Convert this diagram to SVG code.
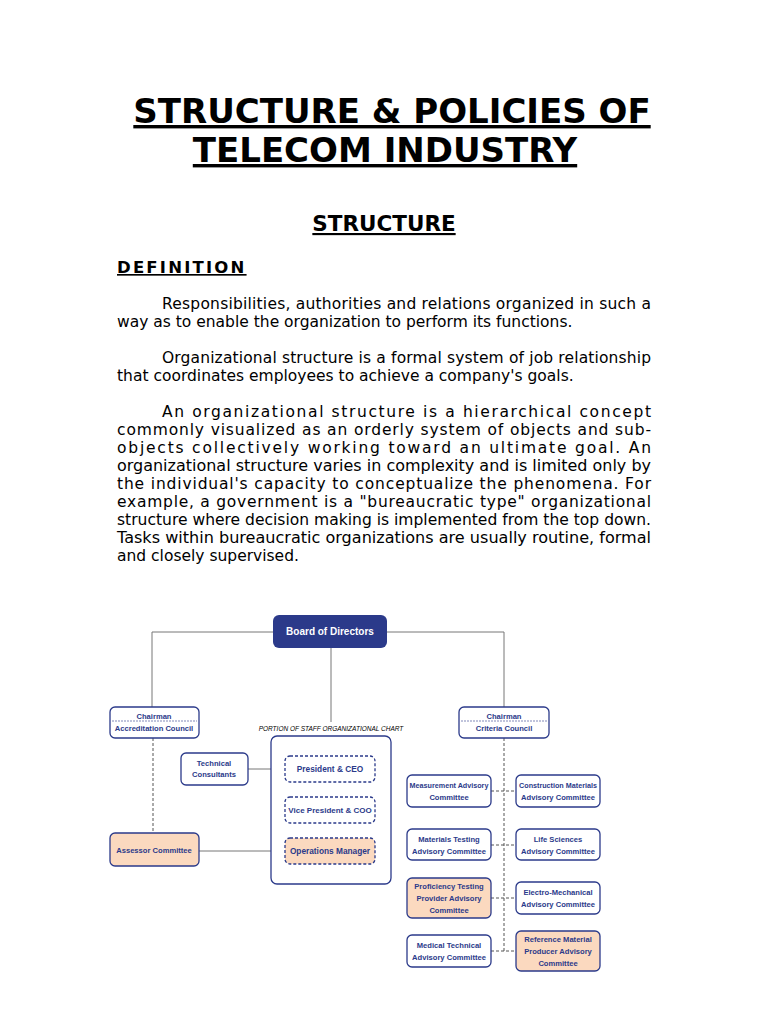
<svg xmlns="http://www.w3.org/2000/svg" width="768" height="1024" viewBox="0 0 768 1024">
<style>
.t{font-family:"DejaVu Sans",sans-serif;fill:#000}
.b{fill:#fff;stroke:#2b3a8a;stroke-width:1.3}
.p{fill:#fbd9bf;stroke:#2b3a8a;stroke-width:1.3}
.d{stroke-dasharray:3,2}
.n{font-family:"Liberation Sans",sans-serif;font-weight:bold;font-size:7.6px;fill:#2b3a8a;text-anchor:middle}
.l{stroke:#777;stroke-width:1;fill:none}
.ld{stroke:#555;stroke-width:1;fill:none;stroke-dasharray:3,2}
</style>
<rect width="768" height="1024" fill="#fff"/>
<text class="t" x="392" y="123" font-size="34" font-weight="bold" text-anchor="middle" text-decoration="underline">STRUCTURE &amp; POLICIES OF </text>
<text class="t" x="385" y="162" font-size="34" font-weight="bold" text-anchor="middle" text-decoration="underline">TELECOM INDUSTRY</text>
<text class="t" x="384" y="231" font-size="21.5" font-weight="bold" text-anchor="middle" text-decoration="underline">STRUCTURE</text>
<text class="t" x="117" y="273" font-size="16.5" font-weight="bold" letter-spacing="2.2" text-decoration="underline">DEFINITION</text>
<g class="t" font-size="15.5">
<text x="162" y="309" textLength="489" lengthAdjust="spacing">Responsibilities, authorities and relations organized in such a</text>
<text x="117" y="327">way as to enable the organization to perform its functions.</text>
<text x="162" y="363" textLength="489" lengthAdjust="spacing">Organizational structure is a formal system of job relationship</text>
<text x="117" y="381">that coordinates employees to achieve a company's goals.</text>
<text x="162" y="417" textLength="489" lengthAdjust="spacing">An organizational structure is a hierarchical concept</text>
<text x="117" y="435" textLength="534" lengthAdjust="spacing">commonly visualized as an orderly system of objects and sub-</text>
<text x="117" y="453" textLength="534" lengthAdjust="spacing">objects collectively working toward an ultimate goal. An</text>
<text x="117" y="471" textLength="534" lengthAdjust="spacingAndGlyphs">organizational structure varies in complexity and is limited only by</text>
<text x="117" y="489" textLength="534" lengthAdjust="spacing">the individual's capacity to conceptualize the phenomena. For</text>
<text x="117" y="507" textLength="534" lengthAdjust="spacing">example, a government is a "bureaucratic type" organizational</text>
<text x="117" y="525" textLength="534" lengthAdjust="spacingAndGlyphs">structure where decision making is implemented from the top down.</text>
<text x="117" y="543" textLength="534" lengthAdjust="spacingAndGlyphs">Tasks within bureaucratic organizations are usually routine, formal</text>
<text x="117" y="561">and closely supervised.</text>
</g>
<g id="connectors">
<path class="l" d="M152 707V632H273M387 632H504V707M331 648V722M248 769H285M199 851H285"/>
<path class="ld" d="M153 738V833M504 738V951M491 791H516M491 845H516M491 898H516M491 951H516"/>
</g>
<g id="board"><rect x="273" y="615" width="114" height="33" rx="6" fill="#2b3a8a"/><text class="n" x="330" y="635" style="fill:#fff;font-size:10px">Board of Directors</text></g>
<g id="chair-acc"><rect class="b" x="110" y="707" width="89" height="31" rx="5"/><line x1="112" y1="721" x2="197" y2="721" stroke="#2b3a8a" stroke-width=".6" stroke-dasharray="2,1"/><text class="n" x="154" y="719">Chairman</text><text class="n" x="154" y="731">Accreditation Council</text></g>
<g id="assessor"><rect class="p" x="110" y="833" width="89" height="33" rx="5"/><text class="n" x="154" y="853">Assessor Committee</text></g>
<g id="staff"><text x="331" y="731" font-family="Liberation Sans,sans-serif" font-style="italic" font-size="6.5" text-anchor="middle">PORTION OF STAFF ORGANIZATIONAL CHART</text><rect class="b" x="271" y="736" width="120" height="148" rx="6"/></g>
<g id="tech"><rect class="b" x="181" y="753" width="67" height="32" rx="5"/><text class="n" x="214" y="766">Technical</text><text class="n" x="214" y="777">Consultants</text></g>
<g id="ceo"><rect class="b d" x="285" y="756" width="90" height="26" rx="5"/><text class="n" x="330" y="772" style="font-size:8.3px">President &amp; CEO</text></g>
<g id="vp"><rect class="b d" x="285" y="797" width="90" height="26" rx="5"/><text class="n" x="330" y="813" style="font-size:8px">Vice President &amp; COO</text></g>
<g id="ops"><rect class="p d" x="285" y="838" width="90" height="26" rx="5"/><text class="n" x="330" y="854" style="font-size:8.3px">Operations Manager</text></g>
<g id="chair-crit"><rect class="b" x="459" y="707" width="90" height="31" rx="5"/><line x1="461" y1="721" x2="547" y2="721" stroke="#2b3a8a" stroke-width=".6" stroke-dasharray="2,1"/><text class="n" x="504" y="719">Chairman</text><text class="n" x="504" y="731">Criteria Council</text></g>
<g id="measure"><rect class="b" x="407" y="775" width="84" height="32" rx="5"/><text class="n" x="449" y="788" style="font-size:7.2px">Measurement Advisory</text><text class="n" x="449" y="800">Committee</text></g>
<g id="construct"><rect class="b" x="516" y="775" width="84" height="32" rx="5"/><text class="n" x="558" y="788" style="font-size:7.2px">Construction Materials</text><text class="n" x="558" y="800">Advisory Committee</text></g>
<g id="mattest"><rect class="b" x="407" y="829" width="84" height="31" rx="5"/><text class="n" x="449" y="842">Materials Testing</text><text class="n" x="449" y="854">Advisory Committee</text></g>
<g id="life"><rect class="b" x="516" y="829" width="84" height="31" rx="5"/><text class="n" x="558" y="842">Life Sciences</text><text class="n" x="558" y="854">Advisory Committee</text></g>
<g id="prof"><rect class="p" x="407" y="878" width="84" height="40" rx="5"/><text class="n" x="449" y="889">Proficiency Testing</text><text class="n" x="449" y="901">Provider Advisory</text><text class="n" x="449" y="913">Committee</text></g>
<g id="electro"><rect class="b" x="516" y="882" width="84" height="32" rx="5"/><text class="n" x="558" y="895">Electro-Mechanical</text><text class="n" x="558" y="907">Advisory Committee</text></g>
<g id="medical"><rect class="b" x="407" y="935" width="84" height="32" rx="5"/><text class="n" x="449" y="948">Medical Technical</text><text class="n" x="449" y="960">Advisory Committee</text></g>
<g id="refmat"><rect class="p" x="516" y="931" width="84" height="40" rx="5"/><text class="n" x="558" y="942">Reference Material</text><text class="n" x="558" y="954">Producer Advisory</text><text class="n" x="558" y="966">Committee</text></g>
</svg>
